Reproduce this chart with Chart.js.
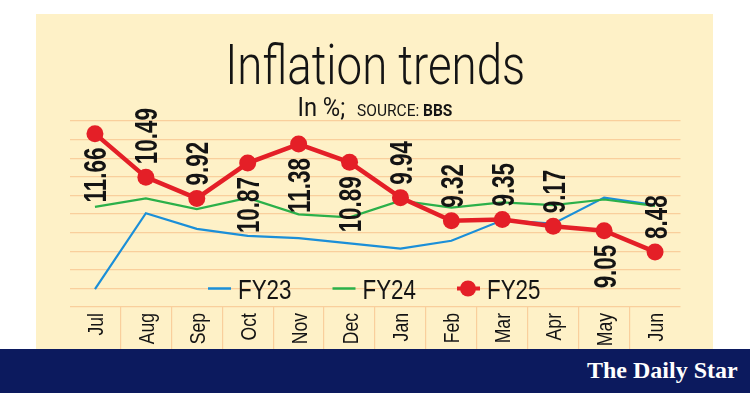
<!DOCTYPE html>
<html>
<head>
<meta charset="utf-8">
<script src="https://cdn.jsdelivr.net/npm/chart.js@4.4.1/dist/chart.umd.min.js"></script>
<style>
  html, body { margin:0; padding:0; background:#ffffff; width:750px; height:393px; overflow:hidden; }
  #panel { position:absolute; left:36px; top:14px; width:677px; height:336px; background:#fef1c7; }
  #c { position:absolute; left:0; top:0; z-index:2; }
  .row { position:absolute; left:0; width:750px; text-align:center; z-index:3; }
  .cond { display:inline-block; transform-origin:50% 50%; white-space:pre; color:#141414; }
  #title { top:37px; }
  #title .cond { font-family:Roboto,"Liberation Sans",sans-serif; font-weight:300; font-size:56px; line-height:56px; }
  #sub { top:94px; }
  #sub .cond { font-family:Roboto,"Liberation Sans",sans-serif; font-size:26px; line-height:26px; }
  #sub .s { font-size:17px; }
  #band { position:absolute; left:0; top:349px; width:750px; height:44px; background:#0c1a5e; z-index:4; }
  #logo { position:absolute; left:587px; top:357px; z-index:5; color:#ffffff;
          font-family:"Liberation Serif",serif; font-weight:bold; font-size:24px; line-height:26px; white-space:nowrap; }
</style>
</head>
<body>
<div id="panel"></div>
<canvas id="c" width="750" height="393"></canvas>
<div class="row" id="title"><span class="cond" data-w="300">Inflation trends</span></div>
<div class="row" id="sub"><span class="cond" data-w="155">In %;  <span class="s">SOURCE: </span><b class="s">BBS</b></span></div>
<div id="band"></div>
<div id="logo">The Daily Star</div>
<script>
// ---- data ----
const categories = ['Jul','Aug','Sep','Oct','Nov','Dec','Jan','Feb','Mar','Apr','May','Jun'];
const seriesNames = ['FY23','FY24','FY25'];
const fy23 = [7.48, 9.52, 9.10, 8.91, 8.85, 8.71, 8.57, 8.78, 9.33, 9.24, 9.94, 9.74];
const fy24 = [9.69, 9.92, 9.63, 9.93, 9.49, 9.41, 9.86, 9.67, 9.81, 9.74, 9.89, 9.72];
const fy25 = [11.66, 10.49, 9.92, 10.87, 11.38, 10.89, 9.94, 9.32, 9.35, 9.17, 9.05, 8.48];
const fy25LabelSide = ['below','above','above','below','below','below','above','above','above','above','below','above'];
const yMin = 7, yMax = 12, yStep = 0.5;

// condense the headline text to the reference widths
document.querySelectorAll('.cond').forEach(el => {
  const w = el.getBoundingClientRect().width;
  el.style.transform = 'scaleX(' + (parseFloat(el.dataset.w) / w) + ')';
});

// ---- styles ----
const BLUE = '#1b8fd8', GREEN = '#2bb04a', RED = '#e41f27', GRID = '#f9cf9c', INK = '#141414';
const FONT = '"Liberation Sans", sans-serif';

// draw text rotated to read bottom-to-top, condensed along its length
function vText(ctx, txt, x, y, align, capH, sx) {
  ctx.save();
  ctx.translate(x, y);
  ctx.rotate(-Math.PI / 2);
  ctx.scale(sx, 1);
  ctx.textAlign = align;
  ctx.textBaseline = 'alphabetic';
  ctx.fillText(txt, 0, capH / 2);
  ctx.restore();
}

const valueLabels = {
  id: 'valueLabels',
  afterDatasetsDraw(chart) {
    const ctx = chart.ctx;
    const meta = chart.getDatasetMeta(2);
    ctx.save();
    ctx.fillStyle = INK;
    ctx.font = 'bold 32px ' + FONT;
    meta.data.forEach((pt, i) => {
      const above = fy25LabelSide[i] === 'above';
      const gap = above ? 13 : 14;
      vText(ctx, fy25[i].toFixed(2), pt.x, above ? pt.y - gap : pt.y + gap, above ? 'left' : 'right', 23, 0.7);
    });
    ctx.restore();
  }
};

const categoryLabels = {
  id: 'categoryLabels',
  afterDraw(chart) {
    const ctx = chart.ctx, a = chart.chartArea, xs = chart.scales.x;
    ctx.save();
    ctx.fillStyle = INK;
    ctx.font = '22px ' + FONT;
    categories.forEach((lab, i) => {
      vText(ctx, lab, xs.getPixelForTick(i), a.bottom + 6, 'right', 16, 0.8);
    });
    ctx.restore();
  }
};

const inlineLegend = {
  id: 'inlineLegend',
  afterDatasetsDraw(chart) {
    const ctx = chart.ctx, a = chart.chartArea;
    const y = a.bottom - 18.5;
    const colors = [BLUE, GREEN, RED];
    ctx.save();
    ctx.font = '28px ' + FONT;
    ctx.textBaseline = 'alphabetic';
    ctx.textAlign = 'left';
    seriesNames.forEach((name, i) => {
      const x0 = a.left + 138.5 + i * 124.5;
      ctx.strokeStyle = colors[i];
      ctx.lineWidth = i === 2 ? 4 : 2.5;
      ctx.beginPath();
      ctx.moveTo(x0, y);
      ctx.lineTo(x0 + 23, y);
      ctx.stroke();
      if (i === 2) {
        ctx.fillStyle = RED;
        ctx.beginPath();
        ctx.arc(x0 + 11, y, 8, 0, Math.PI * 2);
        ctx.fill();
      }
      ctx.fillStyle = INK;
      ctx.save();
      ctx.translate(x0 + 30, y + 10.5);
      ctx.scale(0.8, 1);
      ctx.fillText(name, 0, 0);
      ctx.restore();
    });
    ctx.restore();
  }
};

new Chart(document.getElementById('c'), {
  type: 'line',
  data: {
    labels: categories,
    datasets: [
      { label: seriesNames[0], data: fy23, borderColor: BLUE, borderWidth: 2.2, pointRadius: 0, tension: 0, order: 2 },
      { label: seriesNames[1], data: fy24, borderColor: GREEN, borderWidth: 2.2, pointRadius: 0, tension: 0, order: 1 },
      { label: seriesNames[2], data: fy25, borderColor: RED, borderWidth: 4.5, pointRadius: 8.5,
        pointBackgroundColor: RED, pointBorderWidth: 0, tension: 0, order: 0, clip: false }
    ]
  },
  options: {
    responsive: false,
    animation: false,
    devicePixelRatio: 1,
    events: [],
    layout: { padding: { left: 69.5, right: 69.5, top: 121, bottom: 43 } },
    plugins: { legend: { display: false }, tooltip: { enabled: false }, title: { display: false } },
    scales: {
      x: {
        offset: true,
        border: { display: false },
        grid: {
          offset: true,
          drawOnChartArea: false,
          drawTicks: true,
          tickLength: 43,
          lineWidth: 1.2,
          color: (c) => (c.type === 'tick' && c.index > 0) ? GRID : 'rgba(0,0,0,0)'
        },
        ticks: { display: false, autoSkip: false },
        afterFit: (s) => { s.height = 43; }
      },
      y: {
        min: yMin, max: yMax,
        border: { display: false },
        grid: { color: GRID, lineWidth: 1.2, drawTicks: false },
        ticks: { display: false, stepSize: yStep }
      }
    }
  },
  plugins: [valueLabels, categoryLabels, inlineLegend]
});
</script>
</body>
</html>
